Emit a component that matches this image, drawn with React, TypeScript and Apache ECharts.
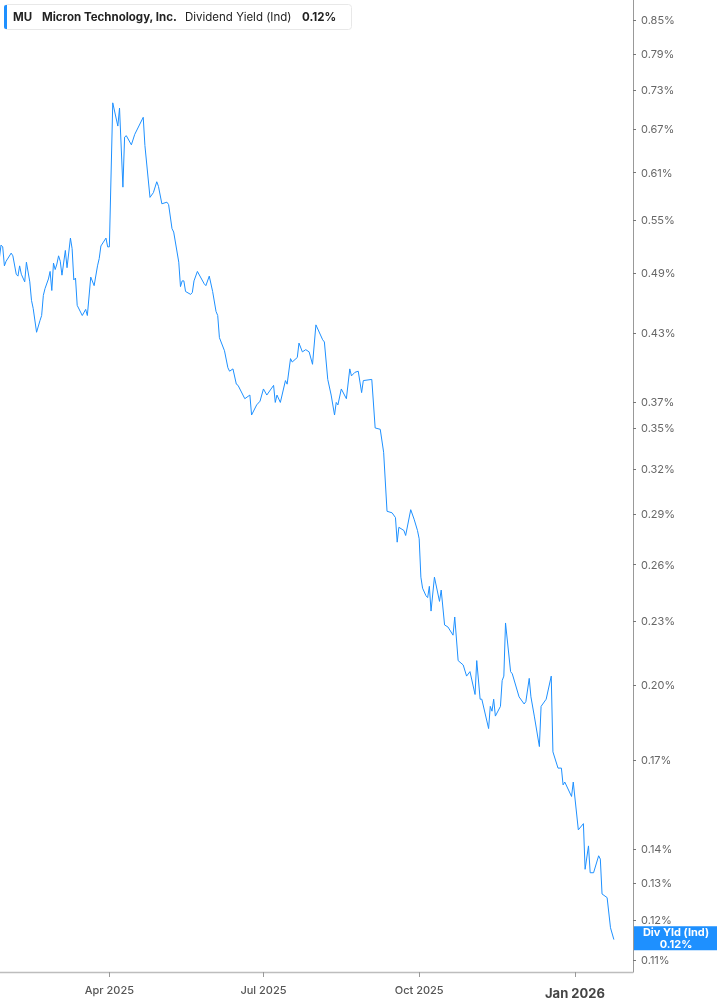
import React, { useEffect, useRef } from "react";
import * as echarts from "echarts";

const ticker = "MU";
const company = "Micron Technology, Inc.";
const metric = "Dividend Yield (Ind)";
const shortMetric = "Div Yld (Ind)";

const dates = [
  "2025-01-26","2025-01-27","2025-01-28","2025-01-29","2025-01-30","2025-02-02","2025-02-03","2025-02-05","2025-02-06","2025-02-07",
  "2025-02-08","2025-02-10","2025-02-11","2025-02-13","2025-02-14","2025-02-15","2025-02-17","2025-02-19","2025-02-20","2025-02-21",
  "2025-02-22","2025-02-24","2025-02-25","2025-02-26","2025-02-27","2025-02-28","2025-03-01","2025-03-02","2025-03-03","2025-03-04",
  "2025-03-06","2025-03-07","2025-03-09","2025-03-10","2025-03-11","2025-03-12","2025-03-13","2025-03-16","2025-03-18","2025-03-19",
  "2025-03-21","2025-03-23","2025-03-25","2025-03-26","2025-03-27","2025-03-30","2025-03-31","2025-04-01","2025-04-03","2025-04-06",
  "2025-04-07","2025-04-09","2025-04-10","2025-04-11","2025-04-14","2025-04-16","2025-04-21","2025-04-22","2025-04-25","2025-04-27",
  "2025-04-29","2025-04-30","2025-05-02","2025-05-05","2025-05-06","2025-05-08","2025-05-09","2025-05-12","2025-05-13","2025-05-14",
  "2025-05-15","2025-05-16","2025-05-19","2025-05-20","2025-05-21","2025-05-23","2025-05-27","2025-05-28","2025-05-30","2025-06-01",
  "2025-06-03","2025-06-04","2025-06-05","2025-06-08","2025-06-10","2025-06-11","2025-06-13","2025-06-15","2025-06-16","2025-06-20",
  "2025-06-23","2025-06-24","2025-06-27","2025-06-29","2025-07-01","2025-07-03","2025-07-07","2025-07-08","2025-07-09","2025-07-11",
  "2025-07-14","2025-07-15","2025-07-17","2025-07-18","2025-07-21","2025-07-22","2025-07-24","2025-07-26","2025-07-28","2025-07-30",
  "2025-08-01","2025-08-05","2025-08-06","2025-08-08","2025-08-10","2025-08-12","2025-08-13","2025-08-14","2025-08-16","2025-08-19",
  "2025-08-21","2025-08-22","2025-08-24","2025-08-26","2025-08-28","2025-08-29","2025-09-03","2025-09-05","2025-09-08","2025-09-10",
  "2025-09-12","2025-09-15","2025-09-17","2025-09-18","2025-09-19","2025-09-22","2025-09-23","2025-09-26","2025-09-28","2025-09-30",
  "2025-10-01","2025-10-02","2025-10-03","2025-10-05","2025-10-06","2025-10-07","2025-10-08","2025-10-10","2025-10-13","2025-10-14",
  "2025-10-16","2025-10-18","2025-10-21","2025-10-22","2025-10-24","2025-10-27","2025-10-29","2025-10-31","2025-11-03","2025-11-04",
  "2025-11-06","2025-11-07","2025-11-11","2025-11-12","2025-11-13","2025-11-14","2025-11-15","2025-11-18","2025-11-19","2025-11-20",
  "2025-11-21","2025-11-24","2025-11-25","2025-11-29","2025-12-02","2025-12-03","2025-12-05","2025-12-06","2025-12-08","2025-12-11",
  "2025-12-12","2025-12-15","2025-12-18","2025-12-19","2025-12-22","2025-12-24","2025-12-25","2025-12-26","2025-12-30","2025-12-31",
  "2026-01-03","2026-01-06","2026-01-07","2026-01-09","2026-01-10","2026-01-12","2026-01-15","2026-01-16","2026-01-17","2026-01-20",
  "2026-01-22","2026-01-24",
];

const yields = [
  0.506,0.521,0.519,0.498,0.503,0.512,0.509,0.489,0.487,0.498,
  0.489,0.481,0.502,0.481,0.462,0.454,0.431,0.442,0.447,0.467,
  0.474,0.484,0.492,0.472,0.501,0.494,0.500,0.509,0.503,0.488,
  0.515,0.496,0.529,0.517,0.483,0.485,0.457,0.447,0.453,0.447,
  0.486,0.477,0.498,0.506,0.520,0.529,0.519,0.519,0.710,0.675,
  0.702,0.591,0.659,0.661,0.648,0.663,0.688,0.647,0.578,0.584,
  0.598,0.592,0.570,0.572,0.569,0.540,0.536,0.502,0.476,0.482,
  0.482,0.471,0.468,0.470,0.482,0.492,0.479,0.477,0.487,0.471,
  0.451,0.447,0.426,0.414,0.399,0.396,0.398,0.385,0.384,0.373,
  0.376,0.360,0.368,0.371,0.381,0.376,0.384,0.370,0.376,0.370,
  0.388,0.385,0.407,0.404,0.408,0.421,0.413,0.415,0.413,0.402,
  0.438,0.424,0.422,0.389,0.376,0.360,0.370,0.368,0.381,0.373,
  0.398,0.392,0.395,0.396,0.378,0.388,0.389,0.350,0.349,0.332,
  0.292,0.291,0.288,0.273,0.282,0.280,0.277,0.293,0.287,0.280,
  0.275,0.253,0.247,0.243,0.242,0.248,0.235,0.253,0.240,0.246,
  0.228,0.227,0.223,0.232,0.211,0.209,0.204,0.206,0.196,0.211,
  0.194,0.194,0.182,0.191,0.189,0.194,0.187,0.191,0.202,0.204,
  0.229,0.206,0.205,0.195,0.192,0.193,0.203,0.195,0.187,0.175,
  0.191,0.194,0.204,0.173,0.167,0.167,0.161,0.162,0.157,0.162,
  0.146,0.148,0.134,0.141,0.133,0.133,0.138,0.137,0.127,0.126,
  0.118,0.115,
];

const yTicks = [0.85, 0.79, 0.73, 0.67, 0.61, 0.55, 0.49, 0.43, 0.37, 0.35, 0.32, 0.29, 0.26, 0.23, 0.2, 0.17, 0.14, 0.13, 0.12, 0.11];
const xTickDates = ["2025-04-01", "2025-07-01", "2025-10-01", "2026-01-01"];
const xTickLabels = ["Apr 2025", "Jul 2025", "Oct 2025", "Jan 2026"];
const yRange = [0.10717, 0.888];

const FONT = "Inter, 'Open Sans', sans-serif";
const BLUE = "#1e90ff";

function parseLocal(s: string) {
  const [y, m, d] = s.split("-").map(Number);
  return new Date(y, m - 1, d).getTime();
}

export default function App() {
  const ref = useRef<HTMLDivElement>(null);
  useEffect(() => {
    if (!ref.current) return;
    const chart = echarts.init(ref.current, undefined, { renderer: "svg" });
    const last = yields[yields.length - 1];
    const lastText = last.toFixed(2) + "%";
    const xTickTs = xTickDates.map(parseLocal);
    const seriesData = dates.map((d, i) => [parseLocal(d), Math.log(yields[i])]);
    const xMin = new Date(2025, 0, 26, 9, 40).getTime();
    const xMax = new Date(2026, 1, 4, 7, 0).getTime();

    chart.setOption({
      animation: false,
      textStyle: { fontFamily: FONT },
      grid: { left: 0, right: 84, top: 0, bottom: 33, containLabel: false },
      xAxis: {
        type: "value",
        min: xMin,
        max: xMax,
        splitLine: { show: false },
        axisLine: { show: true, lineStyle: { color: "#bdbdbd", width: 1.3 } },
        axisTick: { show: true, length: 5, lineStyle: { color: "#999" }, customValues: xTickTs },
        axisLabel: {
          customValues: xTickTs,
          margin: 12,
          formatter: (v: number) => {
            let idx = 0;
            let best = Infinity;
            xTickTs.forEach((t, i) => {
              const dd = Math.abs(t - v);
              if (dd < best) { best = dd; idx = i; }
            });
            const txt = xTickLabels[idx];
            return txt.startsWith("Jan") ? "{b|" + txt + "}" : "{a|" + txt + "}";
          },
          rich: {
            a: { fontSize: 11, color: "#555", fontFamily: FONT, fontWeight: 500 },
            b: { fontSize: 13, color: "#444", fontFamily: FONT, fontWeight: "bold", padding: [2, 0, 0, 0] },
          },
        },
      },
      yAxis: {
        type: "value",
        position: "right",
        min: Math.log(yRange[0]),
        max: Math.log(yRange[1]),
        splitLine: { show: false },
        axisLine: { show: true, lineStyle: { color: "#999", width: 1 } },
        axisTick: { show: true, length: 3, lineStyle: { color: "#777" }, customValues: yTicks.map(Math.log) },
        axisLabel: {
          customValues: yTicks.map(Math.log),
          margin: 8,
          fontSize: 11,
          color: "#666",
          fontFamily: FONT,
          formatter: (v: number) => Math.exp(v).toFixed(2) + "%",
        },
      },
      series: [
        {
          type: "line",
          data: seriesData,
          showSymbol: false,
          symbol: "none",
          lineStyle: { color: BLUE, width: 1 },
          itemStyle: { color: BLUE },
          markLine: {
            silent: true,
            symbol: ["none", "none"],
            lineStyle: { color: "rgba(0,0,0,0)", width: 0 },
            data: [{ yAxis: Math.log(last) }],
            label: {
              show: true,
              position: "end",
              distance: 1,
              formatter: "{t|" + shortMetric + "}\n{t|" + lastText + "}",
              backgroundColor: BLUE,
              padding: [0, 0, 0, 0],
              rich: {
                t: { width: 84, align: "center", color: "#fff", fontSize: 11, fontWeight: "bold", lineHeight: 12, fontFamily: FONT },
              },
            },
          },
        },
      ],
      graphic: [
        { type: "rect", shape: { x: 4.5, y: 4.5, width: 347, height: 25, r: 3 }, style: { fill: "#fff", stroke: "#e8e8e8", lineWidth: 1 } },
        { type: "rect", shape: { x: 4, y: 5, width: 3, height: 24, r: [2, 0, 0, 2] }, style: { fill: BLUE } },
        { type: "text", x: 13, y: 17, style: { text: ticker, fontSize: 11.5, fontWeight: "bold", fontFamily: FONT, fill: "#222", verticalAlign: "middle" } },
        { type: "text", x: 42, y: 17, style: { text: company, fontSize: 11.5, fontWeight: "bold", fontFamily: FONT, fill: "#222", verticalAlign: "middle" } },
        { type: "text", x: 185, y: 17, style: { text: metric, fontSize: 11.5, fontWeight: "normal", fontFamily: FONT, fill: "#222", verticalAlign: "middle" } },
        { type: "text", x: 302, y: 17, style: { text: lastText, fontSize: 11.5, fontWeight: "bold", fontFamily: FONT, fill: "#222", verticalAlign: "middle" } },
      ],
    });
    return () => chart.dispose();
  }, []);
  return <div ref={ref} style={{ position: "fixed", left: 0, top: 0, width: 717, height: 1005 }} />;
}
